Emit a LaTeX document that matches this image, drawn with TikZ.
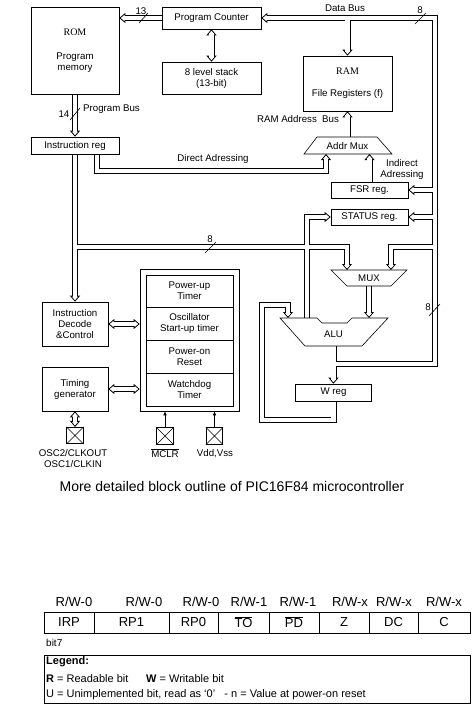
\documentclass[tikz,border=0pt]{standalone}
\usepackage{fontspec}
\setmainfont{Liberation Sans}
\newfontfamily\romfont{Liberation Serif}
\usetikzlibrary{arrows.meta,calc}
\pgfdeclarelayer{buslayer}
\pgfsetlayers{buslayer,main}
\tikzset{
  dfont/.style={font=\fontsize{9.7}{11}\selectfont},
  box/.style={draw, line width=0.6pt, inner sep=0pt, align=center, dfont},
  txt/.style={inner sep=0pt, align=center, dfont},
  pinbox/.style={draw, line width=0.6pt, inner sep=0pt, minimum size=16.5pt},
  thinline/.style={line width=0.6pt},
  tcell/.style={draw, line width=0.6pt, minimum height=21pt, inner sep=0pt, font=\fontsize{13}{15}\selectfont},
  tlab/.style={inner sep=0pt, font=\fontsize{13}{15}\selectfont},
  lfont/.style={inner sep=0pt, font=\fontsize{11}{13}\selectfont},
  busout/.style={line width=6pt,draw=black},
  busin/.style={line width=4.2pt,draw=white},
  headout/.style={-{Triangle[length=6pt 0 0,width=10pt 0 0,line width=0.8pt 0 0,fill=white]}},
  bothout/.style={{Triangle[length=6pt 0 0,width=10pt 0 0,line width=0.8pt 0 0,fill=white]}-{Triangle[length=6pt 0 0,width=10pt 0 0,line width=0.8pt 0 0,fill=white]}},
  headin/.style={shorten >=3.5pt},
  bothin/.style={shorten >=3.5pt,shorten <=3.5pt},
}
% #1 = line style, #2 = single-head style, #3 = double-head style
\newcommand\buspaths[3]{%
  \path[#1,#2] (pc.west) -- (pc.west -| rom.east);
  \path[#1,#2] (rom.south) -- (ir.north);
  \path[#1,#3] (pc.south) -- (stack.north);
  \path[#1,#2] (jw) -- (rb1) -- (rb2) -- (pc.east);
  \path[#1,#2] (ram.north |- pc.east) -- (ram.north);
  \path[#1,#2] (fsr.east -| rb1) -- (fsr.east);
  \path[#1,#2] (status.east -| rb1) -- (status.east);
  \path[#1,#2] (jm) -| (muxR);
  \path[#1,#2] (aluB) -- (wreg.north);
  \path[#1,#2] (ir.south) -- (dec.north);
  \path[#1,#2] (ji) -| (muxL);
  \path[#1,#2] (ird) -- ++(0,17) -| (amL);
  \path[#1,#2] (fsr.north) -- (amR);
  \path[#1,#2] (amT) -- (ram.south);
  \path[#1,#2] (muxB) -- (aluR);
  \path[#1,#2] (aluS) |- (status.west);
  \path[#1,#2] (wreg.south) -- ++(0,19) -| (wl) -| (aluL);
  \path[#1,#3] (dec.east) -- (dec.east -| tmr.west);
  \path[#1,#3] (tim.east) -- (tim.east -| tmr.west);
  \path[#1,#3] (tim.south) -- (osc.north);
}
\begin{document}
\begin{tikzpicture}[x=1pt,y=-1pt,line join=miter]
\useasboundingbox (0,0) rectangle (474,718);
% ---------- boxes ----------
\node[box, minimum width=88pt, minimum height=87pt] (rom) at (75,50.5) {{\romfont\fontsize{10}{11}\selectfont ROM}\\[13pt]Program\\memory};
\node[box, minimum width=99pt, minimum height=22pt] (pc) at (211.5,18) {Program Counter};
\node[box, minimum width=99pt, minimum height=32pt] (stack) at (211.5,78) {8 level stack\\(13-bit)};
\node[box, minimum width=89pt, minimum height=55pt] (ram) at (347.5,83.5) {{\romfont\fontsize{10}{11}\selectfont RAM}\\[11pt]File Registers (f)};
\node[box, minimum width=88pt, minimum height=17pt] (ir) at (75,145.5) {Instruction reg};
\node[box, minimum width=77pt, minimum height=16pt] (fsr) at (369.5,190) {FSR reg.};
\node[box, minimum width=77pt, minimum height=16pt] (status) at (369.5,217) {STATUS reg.};
\node[box, minimum width=76pt, minimum height=17pt] (wreg) at (333.5,392.5) {W reg};
\node[box, minimum width=66pt, minimum height=44pt] (dec) at (75,324) {Instruction\\Decode\\\&Control};
\node[box, minimum width=66pt, minimum height=44pt] (tim) at (75,389) {Timing\\generator};
\node[box, minimum width=99pt, minimum height=142pt] (tmr) at (189.5,340) {};
\node[box, minimum width=87pt, minimum height=32pt] (put) at (189.5,291) {Power-up\\Timer};
\node[box, minimum width=87pt, minimum height=33pt] (ost) at (189.5,323.5) {Oscillator\\Start-up timer};
\node[box, minimum width=87pt, minimum height=33pt] (por) at (189.5,356.5) {Power-on\\Reset};
\node[box, minimum width=87pt, minimum height=33pt] (wdt) at (189.5,389.5) {Watchdog\\Timer};
% ---------- trapezoids ----------
\draw[thinline] (317,137) -- (377,137) -- (392,154) -- (304,154) -- cycle;
\node[txt] (am) at (347.5,146) {Addr Mux};
\draw[thinline] (331,270) -- (407,270) -- (391,286) -- (347,286) -- cycle;
\node[txt] (mux) at (369,278) {MUX};
\draw[thinline] (280,318) -- (317,318) -- (322,323) -- (347,323) -- (352,318) -- (388,318) -- (362,346) -- (305,346) -- cycle;
\node[txt] (alu) at (333.5,334) {ALU};
% ---------- coordinates ----------
\coordinate (amT) at (347.5,137);
\coordinate (amL) at (326,154);
\coordinate (amR) at (369.5,154);
\coordinate (muxL) at (347,270);
\coordinate (muxR) at (391,270);
\coordinate (muxB) at (369,286);
\coordinate (aluB) at (333.5,346);
\coordinate (aluL) at (288,318);
\coordinate (aluR) at (369,318);
\coordinate (aluS) at (307,318);
\coordinate (jw) at (333.5,364);
\coordinate (rb1) at (435,364);
\coordinate (rb2) at (435,18);
\coordinate (jm) at (435,247);
\coordinate (ji) at (75,247);
\coordinate (ird) at (97,154);
\coordinate (wl) at (262,305);
% ---------- pins ----------
\node[pinbox] (osc) at (75,435.5) {};
\node[pinbox] (mclr) at (165,436) {};
\node[pinbox] (vdd) at (214.5,436) {};
\foreach \p in {osc,mclr,vdd}{
  \draw[thinline] (\p.north west) -- (\p.south east) (\p.north east) -- (\p.south west);
}
\draw[thinline,-{Latex[length=4pt 0 0,width=3.5pt 0 0]}] (mclr.north) -- (mclr.north |- tmr.south);
\draw[thinline,-{Latex[length=4pt 0 0,width=3.5pt 0 0]}] (vdd.north) -- (vdd.north |- tmr.south);
\node[txt] (osclbl) at (73,458.5) {OSC2/CLKOUT\\OSC1/CLKIN};
\node[txt] (mclrlbl) at (165,453.5) {$\overline{\mbox{MCLR}}$};
\node[txt] (vddlbl) at (215,453.5) {Vdd,Vss};
% ---------- buses (outer black pass, then inner white pass) ----------
\begin{pgfonlayer}{buslayer}
\buspaths{busout}{headout}{bothout}
\buspaths{busin}{headin}{bothin}
\end{pgfonlayer}
% ---------- bus labels ----------
\node[txt] (n13) at (141,11) {13};
\draw[thinline] (139,23) -- (148,13);
\node[txt] (n14) at (64,114) {14};
\draw[thinline] (70,120) -- (80,108);
\node[txt, anchor=west] (pbus) at (83,109) {Program Bus};
\node[txt] (dbus) at (345,8) {Data Bus};
\node[txt] (n8a) at (420,10) {8};
\draw[thinline] (415,24) -- (426,13);
\node[txt] (n8b) at (210,239) {8};
\draw[thinline] (205,253) -- (216,242);
\node[txt] (n8c) at (428,307) {8};
\draw[thinline] (429,316) -- (440,304);
\node[txt] (rab) at (298,119) {RAM Address\ \ Bus};
\node[txt] (dad) at (213,159) {Direct Adressing};
\node[txt] (iad) at (402,169) {Indirect\\Adressing};
% ---------- caption ----------
\node[inner sep=0pt, font=\fontsize{14}{16}\selectfont] (cap) at (232,486) {More detailed block outline of PIC16F84 microcontroller};
% ---------- register table ----------
\node[tcell, minimum width=50pt] (b7) at (69,622.5) {IRP};
\node[tcell, minimum width=75pt] (b6) at (131.5,622.5) {RP1};
\node[tcell, minimum width=49pt] (b5) at (193.5,622.5) {RP0};
\node[tcell, minimum width=51pt] (b4) at (243.5,622.5) {$\overline{\mbox{TO}}$};
\node[tcell, minimum width=50pt] (b3) at (294,622.5) {$\overline{\mbox{PD}}$};
\node[tcell, minimum width=50pt] (b2) at (344,622.5) {Z};
\node[tcell, minimum width=49pt] (b1) at (393.5,622.5) {DC};
\node[tcell, minimum width=52pt] (b0) at (444,622.5) {C};
\node[tlab] (l7) at (74,602) {R/W-0};
\node[tlab] (l6) at (144,602) {R/W-0};
\node[tlab] (l5) at (201,602) {R/W-0};
\node[tlab] (l4) at (249,602) {R/W-1};
\node[tlab] (l3) at (298,602) {R/W-1};
\node[tlab] (l2) at (350,602) {R/W-x};
\node[tlab] (l1) at (394,602) {R/W-x};
\node[tlab] (l0) at (444,602) {R/W-x};
\node[inner sep=0pt, anchor=west, font=\fontsize{10}{12}\selectfont] (bit7) at (46,643) {bit7};
\node[draw, line width=0.6pt, minimum width=426pt, minimum height=48pt, inner sep=0pt] (leg) at (257,679) {};
\node[lfont, anchor=west, font=\bfseries\fontsize{11}{13}\selectfont] (legt) at (46,662) {Legend:};
\node[lfont, anchor=west] (legr) at (46,679) {\textbf{R} = Readable bit};
\node[lfont, anchor=west] (legw) at (146,679) {\textbf{W} = Writable bit};
\node[lfont, anchor=west] (legu) at (46,695) {U = Unimplemented bit, read as ‘0’\ \ \ - n = Value at power-on reset};
\end{tikzpicture}
\end{document}
